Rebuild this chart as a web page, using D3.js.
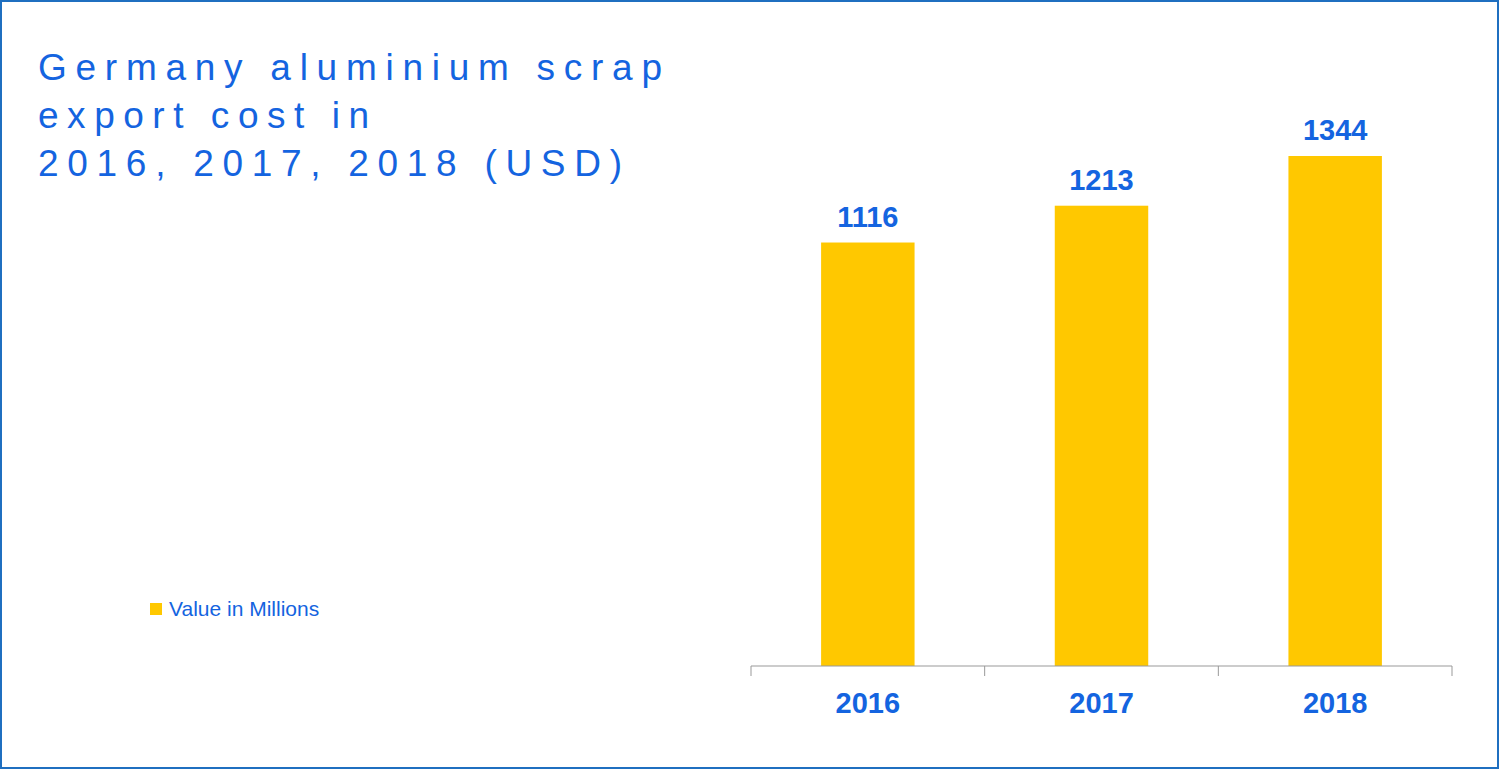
<!DOCTYPE html><html><head><meta charset="utf-8"><script src="https://cdn.jsdelivr.net/npm/d3@7"></script>
<style>body{margin:0;background:#fff}svg{display:block}</style></head><body><svg id="c" width="1499" height="769"></svg>
<script>
const categories=["2016","2017","2018"];
const values=[1116,1213,1344];
const titleLines=["Germany aluminium scrap","export cost in","2016, 2017, 2018 (USD)"];
const legendLabel="Value in Millions";
const blue="#1464e0", gold="#ffc800";
const svg=d3.select("#c");
svg.append("rect").attr("x",1).attr("y",1).attr("width",1497).attr("height",767).attr("fill","none").attr("stroke","#1f6fc0").attr("stroke-width",2);
const titleW=[624,331,584];
titleLines.forEach((t,i)=>{
  const el=svg.append("text").attr("x",38).attr("y",80+i*48).attr("fill",blue)
    .attr("font-family","Liberation Sans, Arial, sans-serif").attr("font-size",37).text(t);
  const w=el.node().getComputedTextLength();
  el.attr("letter-spacing",(titleW[i]-w)/(t.length-1));
});
const x=d3.scaleBand().domain(categories).range([751,1452]).paddingInner(0.6).paddingOuter(0.3);
const y=d3.scaleLinear().domain([0,1344]).range([666,156]);
svg.selectAll(".bar").data(values).join("rect").attr("x",(d,i)=>x(categories[i])).attr("width",x.bandwidth())
  .attr("y",d=>y(d)).attr("height",d=>y(0)-y(d)).attr("fill",gold);
svg.selectAll(".lbl").data(values).join("text").attr("x",(d,i)=>x(categories[i])+x.bandwidth()/2).attr("y",d=>y(d)-16)
  .attr("text-anchor","middle").attr("fill",blue).attr("font-family","Liberation Sans, Arial, sans-serif").attr("font-weight","bold").attr("font-size",29).text(d=>d);
const ax=svg.append("g").attr("transform","translate(0,666)").call(d3.axisBottom(x).tickSize(0).tickPadding(26));
ax.select(".domain").attr("stroke","#999").attr("d","M751,0H1452");
ax.selectAll("text").attr("fill",blue).attr("font-family","Liberation Sans, Arial, sans-serif").attr("font-weight","bold").attr("font-size",29);
const step=(1452-751)/3;
[0,1,2,3].forEach(i=>ax.append("line").attr("x1",751+i*step).attr("x2",751+i*step).attr("y1",0).attr("y2",10).attr("stroke","#999"));
svg.append("rect").attr("x",150).attr("y",603).attr("width",12).attr("height",12).attr("fill",gold);
svg.append("text").attr("x",169).attr("y",616).attr("fill",blue).attr("font-family","Liberation Sans, Arial, sans-serif").attr("font-size",21).text(legendLabel);
</script></body></html>
